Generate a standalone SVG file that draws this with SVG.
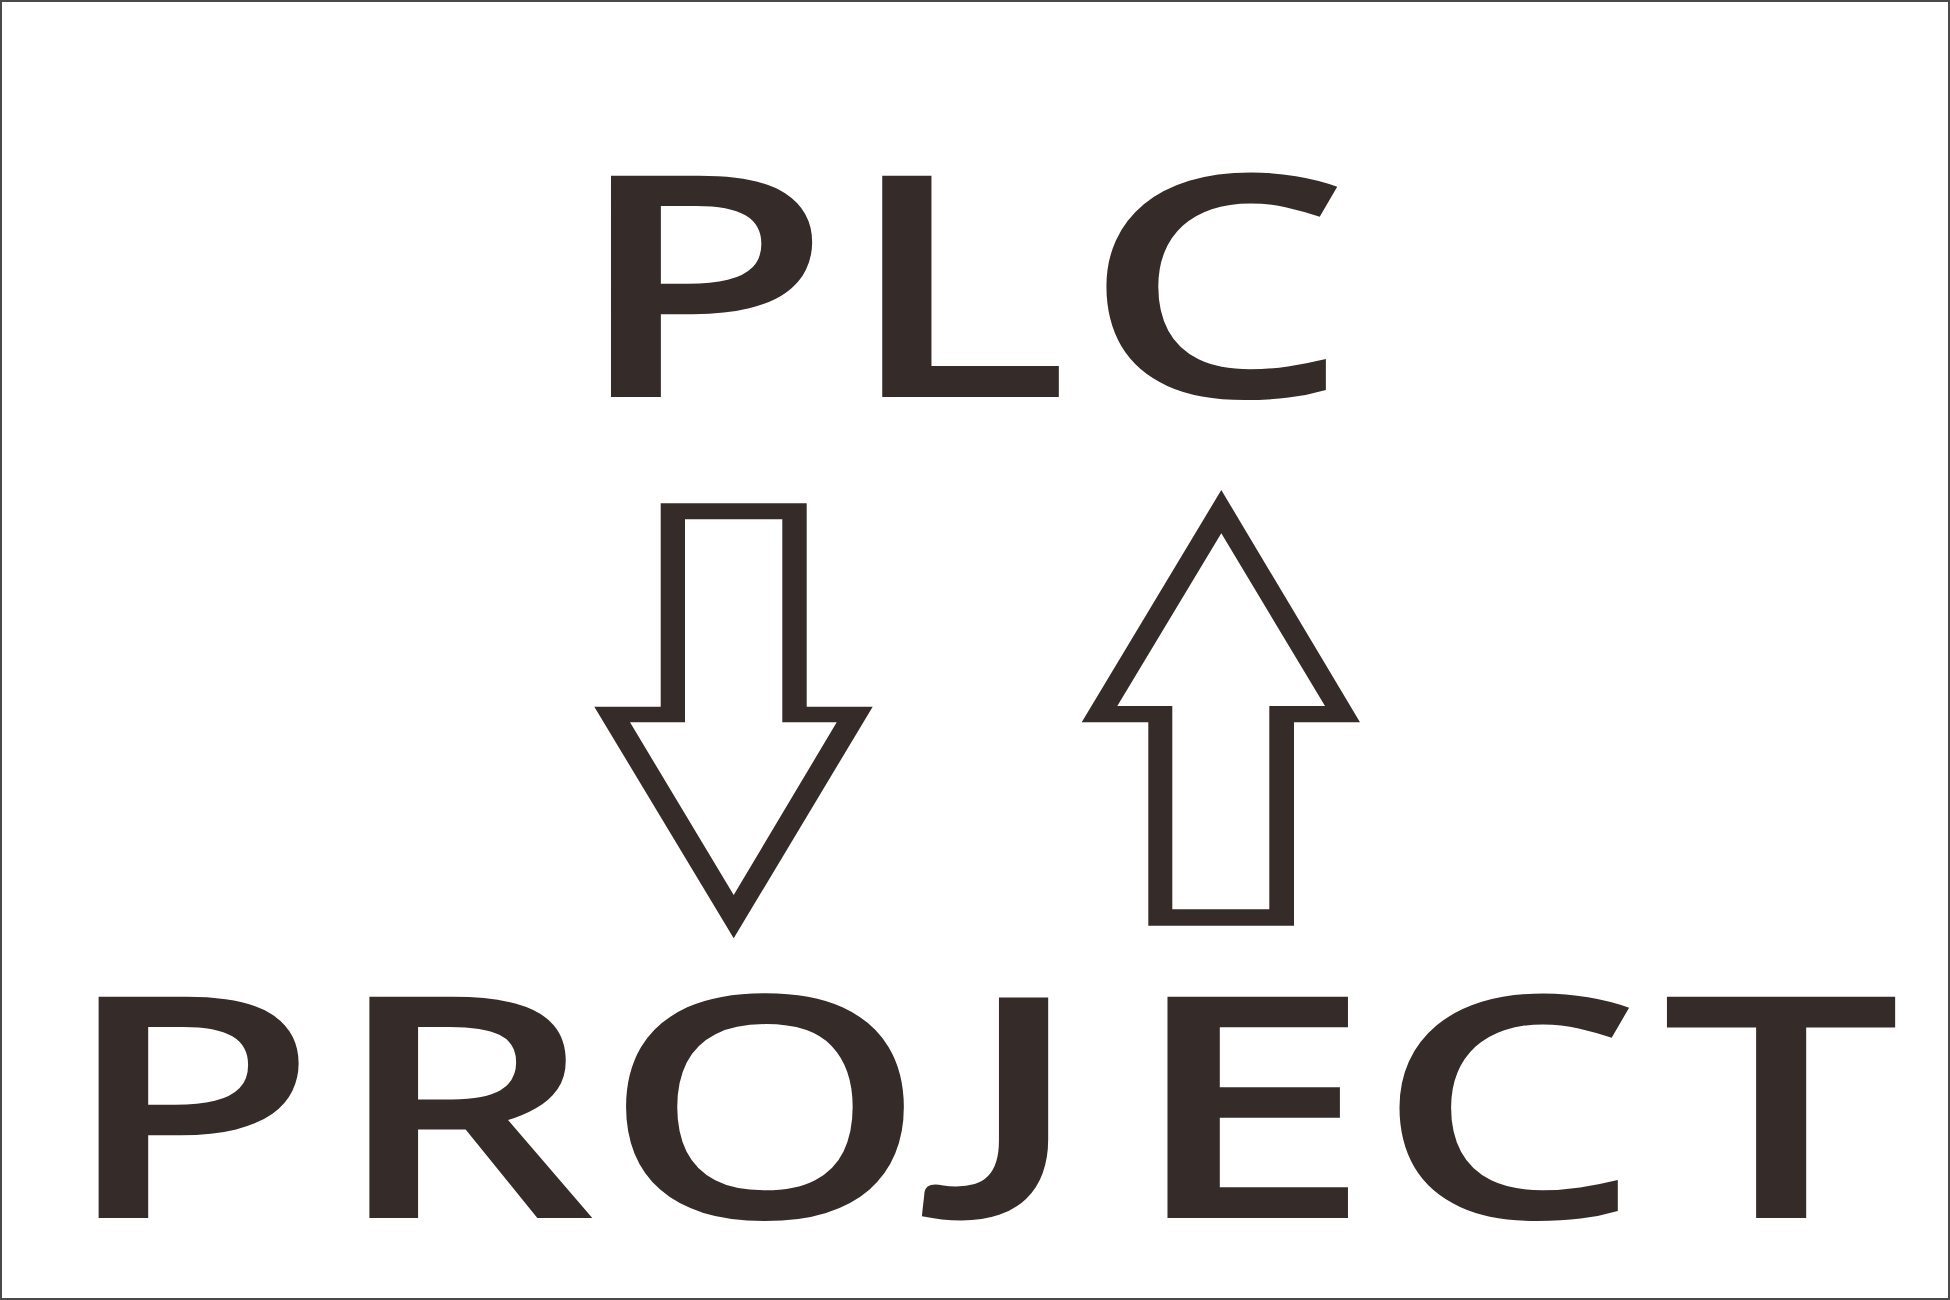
<svg xmlns="http://www.w3.org/2000/svg" width="1950" height="1300" viewBox="0 0 1950 1300">
<style>
.bg{fill:#ffffff;stroke:#4a4a4a;stroke-width:2}
.t{font-family:"Open Sans","Noto Sans","Liberation Sans",sans-serif;font-weight:600;font-size:310px;fill:#352c2a;text-anchor:middle}
.j{font-family:Lato,"Open Sans","Liberation Sans",sans-serif;font-weight:700;font-size:305px}
.arrow{fill:#352c2a;fill-rule:evenodd;stroke:none}
</style>
<rect class="bg" x="1" y="1" width="1948" height="1298"/>
<g id="plc">
<text class="t" transform="translate(701.9,397) scale(1.373,1)">P</text>
<text class="t" transform="translate(957,397) scale(1.355,1)">L</text>
<text class="t" transform="translate(1216.2,397) scale(1.376,1)">C</text>
</g>
<g id="project">
<text class="t" transform="translate(189,1218) scale(1.365,1)">P</text>
<text class="t" transform="translate(463.1,1218) scale(1.34,1)">R</text>
<text class="t" transform="translate(765,1218) scale(1.342,1)">O</text>
<text class="t j" transform="translate(996.5,1218) scale(1.2,1)">J</text>
<text class="t" transform="translate(1250.2,1218) scale(1.44,1)">E</text>
<text class="t" transform="translate(1508.7,1218) scale(1.369,1)">C</text>
<text class="t" transform="translate(1781.2,1218) scale(1.375,1)">T</text>
</g>
<g id="connectors">
<path id="arrow-down" class="arrow" d="M660.7,503.3 H806.7 V706.7 H872.7 L733.7,938.3 L594.3,706.7 H660.7 Z M685,519.3 V722.3 H630 L733.7,895 L836.7,722.3 H782.3 V519.3 Z"/>
<path id="arrow-up" class="arrow" d="M1221.3,490 L1360,722.3 H1294 V925.7 H1148.3 V722.3 H1081.7 Z M1221.3,533.3 L1117.3,706 H1172.3 V909.3 H1269.3 V706 H1325 Z"/>
</g>
</svg>
